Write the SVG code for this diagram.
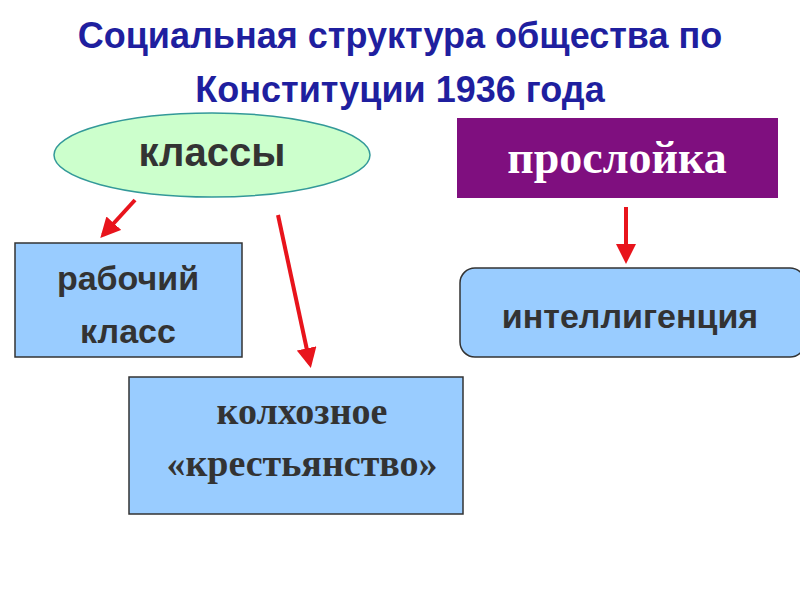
<svg xmlns="http://www.w3.org/2000/svg" width="800" height="600" viewBox="0 0 800 600">
<style>
.t{font-family:"Liberation Sans",Arial,sans-serif;font-weight:bold;fill:#1f1f9f;font-size:36px;text-anchor:middle}
.s{font-family:"Liberation Sans",Arial,sans-serif;font-weight:bold;fill:#333;font-size:34px;text-anchor:middle}
.r{font-family:"Liberation Serif","Times New Roman",serif;font-weight:bold;font-size:38px;text-anchor:middle}
.box{fill:#99ccff;stroke:#333;stroke-width:1.5}
.c{stroke:#e8141c;stroke-width:4;fill:none;marker-end:url(#a)}
</style>
<defs><marker id="a" markerWidth="5" markerHeight="5" refX="4" refY="2.5" orient="auto"><path d="M0,0L5,2.5L0,5z" fill="#e8141c"/></marker></defs>
<rect width="800" height="600" fill="#fff"/>
<text class="t" x="400" y="48">Социальная структура общества по</text>
<text class="t" x="400" y="102">Конституции 1936 года</text>
<g id="classes"><ellipse cx="212" cy="155" rx="158" ry="42" fill="#ccffcc" stroke="#339999" stroke-width="1.5"/><text class="s" x="212" y="166" font-size="40" style="font-size:40px">классы</text></g>
<g id="layer"><rect x="457" y="118" width="321" height="80" fill="#7f0f7f"/><text class="r" x="617" y="173" fill="#fff" style="font-size:46px">прослойка</text></g>
<g id="workers"><rect class="box" x="15" y="243" width="227" height="114"/><text class="s" x="128" y="290">рабочий</text><text class="s" x="128" y="343">класс</text></g>
<g id="peasants"><rect class="box" x="129" y="377" width="334" height="137"/><text class="r" x="302" y="424" fill="#333">колхозное</text><text class="r" x="302" y="476" fill="#333">«крестьянство»</text></g>
<g id="intel"><rect class="box" x="460" y="268" width="345" height="89" rx="15"/><text class="s" x="630" y="328">интеллигенция</text></g>
<g id="connectors">
<path class="c" d="M135,200L103,235"/>
<path class="c" d="M278,215L310,364"/>
<path class="c" d="M626,207L626,260"/>
</g>
</svg>
